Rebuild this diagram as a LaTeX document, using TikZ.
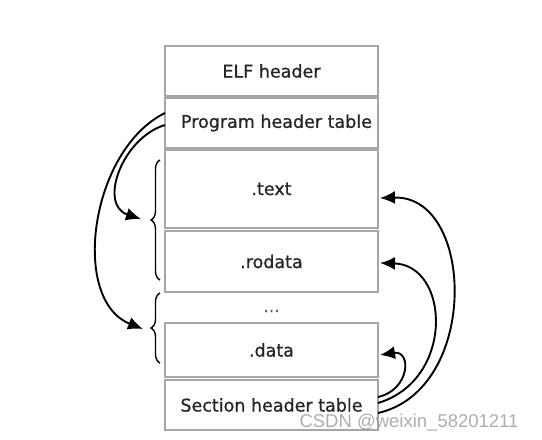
\documentclass[tikz,border=0pt]{standalone}
\usepackage{fontspec}
\setmainfont{DejaVu Sans}[FakeBold=0.6]
\newfontfamily\labelfont{DejaVu Sans}[FakeBold=0.9]
\newfontfamily\wmfont{Liberation Sans}
\usetikzlibrary{arrows.meta,decorations.pathreplacing,calc}
\tikzset{
  seg/.style={draw=black!35, line width=1.4pt, minimum width=213pt, inner sep=0pt, outer sep=0pt,
    font=\labelfont\fontsize{17.5}{20}\selectfont, text=black!85},
  link/.style={line width=1.9pt, -{Latex[length=15pt,width=13pt]}},
  brc/.style={line width=1.4pt, decorate, decoration={brace, amplitude=9pt}},
}
\begin{document}
\begin{tikzpicture}[x=1pt,y=-1pt]
\useasboundingbox (0,0) rectangle (542,440);
\node[seg, minimum height=50pt] (elf) at (271.5,71) {ELF header};
\node[seg, minimum height=50pt] (pht) at (271.5,123) {\hspace{10pt}Program header table};
\node[seg, minimum height=78pt] (text) at (271.5,189) {.text};
\node[seg, minimum height=61pt] (rodata) at (271.5,261.5) {.rodata};
\node[font=\labelfont\fontsize{17}{20}\selectfont, text=black!60] (dots) at (271.5,311) {...};
\node[seg, minimum height=54pt] (data) at (271.5,350) {.data};
\node[seg, minimum height=50pt] (sht) at (271.5,405) {\raisebox{-2pt}{Section header table}\hspace{12pt}};
% braces
\coordinate (b1t) at (160,160);
\coordinate (b1b) at (160,280);
\coordinate (b2t) at (160,293);
\coordinate (b2b) at (160,363);
\draw[brc] (b1b) -- (b1t);
\draw[brc] (b2b) -- (b2t);
% left arrows
\coordinate (la1) at (141,219);
\coordinate (la2) at (143,329);
\draw[link] ($(pht.west)+(0,2)$) .. controls (122,138) and (98,205) .. (la1);
\draw[link] ($(pht.west)+(0,-10)$) .. controls (90,150) and (70,300) .. (la2);
% right arrows
\draw[link] ($(sht.east)+(0,-8)$) .. controls (410,390) and (412,350) .. ($(data.east)+(2,5)$);
\draw[link] ($(sht.east)+(0,-2)$) .. controls (455,380) and (450,265) .. ($(rodata.east)+(2,1.5)$);
\draw[link] ($(sht.east)+(0,8)$) .. controls (480,390) and (475,195) .. ($(text.east)+(2,9)$);
% watermark
\node[font=\wmfont\fontsize{18.5}{20}\selectfont, text=black!40, opacity=0.8, anchor=base west] (wm) at (296,427) {CSDN @weixin\_58201211};
\end{tikzpicture}
\end{document}
